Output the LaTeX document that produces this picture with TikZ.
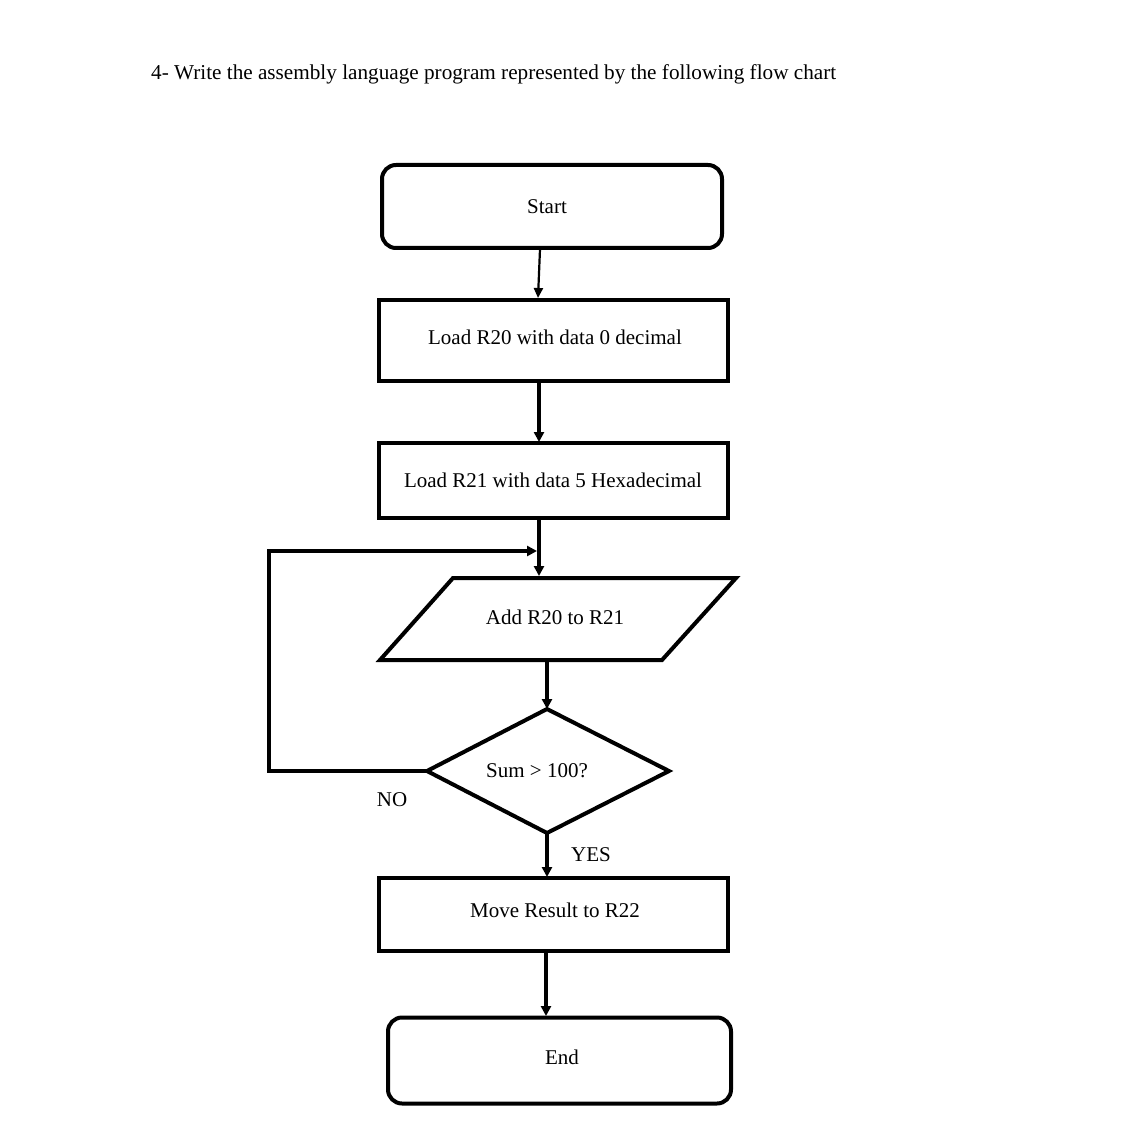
\documentclass[tikz,border=0pt]{standalone}
\usepackage{fontspec}
\setmainfont{Liberation Serif}
\usetikzlibrary{arrows.meta}
\begin{document}
\begin{tikzpicture}[x=1pt,y=-1pt,
  box/.style={draw,line width=4pt,minimum width=#1,inner sep=0pt},
  lbl/.style={font=\fontsize{21}{23}\selectfont,inner sep=0pt},
  conn/.style={line width=3.2pt,-{Triangle[length=10pt,width=10pt]}},
  thin/.style={line width=2.2pt,-{Triangle[length=10pt,width=9pt]}}]
\useasboundingbox[fill=white] (0,0) rectangle (1131,1131);
\node[anchor=west,font=\fontsize{21.2}{23}\selectfont,inner sep=0pt] (title) at (151,74) {4- Write the assembly language program represented by the following flow chart};
% Start
\node[box=340pt,minimum height=83pt,rounded corners=14pt] (start) at (552,206.5) {};
\node[lbl] (tstart) at (547,207) {Start};
% Load R20
\node[box=349pt,minimum height=81pt] (b1) at (553.5,340) {};
\node[lbl] (tb1) at (555,337) {Load R20 with data 0 decimal};
% Load R21
\node[box=349pt,minimum height=75pt] (b2) at (553.5,480.5) {};
\node[lbl] (tb2) at (553,480) {Load R21 with data 5 Hexadecimal};
% Parallelogram
\coordinate (p1) at (453,578);
\coordinate (p2) at (736,578);
\coordinate (p3) at (662,660);
\coordinate (p4) at (380,660);
\draw[line width=4pt,line join=miter] (p1) -- (p2) -- (p3) -- (p4) -- cycle;
\node[lbl] (tadd) at (555,617) {Add R20 to R21};
% Diamond
\coordinate (dt) at (547,709);
\coordinate (dr) at (669,771);
\coordinate (db) at (547,833);
\coordinate (dl) at (427,771);
\draw[line width=4pt,line join=miter] (dt) -- (dr) -- (db) -- (dl) -- cycle;
\node[lbl] (tsum) at (537,771) {Sum > 100?};
\node[lbl] (tno) at (392,800) {NO};
\node[lbl] (tyes) at (591,855) {YES};
% Move
\node[box=349pt,minimum height=73pt] (b3) at (553.5,914.5) {};
\node[lbl] (tb3) at (555,910) {Move Result to R22};
% End
\node[box=343pt,minimum height=86pt,rounded corners=14pt] (end) at (559.5,1060.5) {};
\node[lbl] (tend) at (562,1057) {End};
% connectors
\coordinate (a1s) at (540,249);
\coordinate (a1e) at (538,298);
\draw[thin] (a1s) -- (a1e);
\coordinate (a2s) at (539,382);
\coordinate (a2e) at (539,442);
\draw[conn] (a2s) -- (a2e);
\coordinate (a3s) at (539,518);
\coordinate (a3e) at (539,576);
\draw[conn] (a3s) -- (a3e);
\coordinate (lc1) at (269,771);
\coordinate (lc2) at (269,551);
\coordinate (lc3) at (537,551);
\draw[conn,line join=miter] (dl) -- (lc1) -- (lc2) -- (lc3);
\coordinate (a4s) at (547,661);
\draw[conn] (a4s) -- (dt);
\coordinate (a5e) at (547,877);
\draw[conn] (db) -- (a5e);
\coordinate (a6s) at (546,951);
\coordinate (a6e) at (546,1016);
\draw[conn] (a6s) -- (a6e);
\end{tikzpicture}
\end{document}
